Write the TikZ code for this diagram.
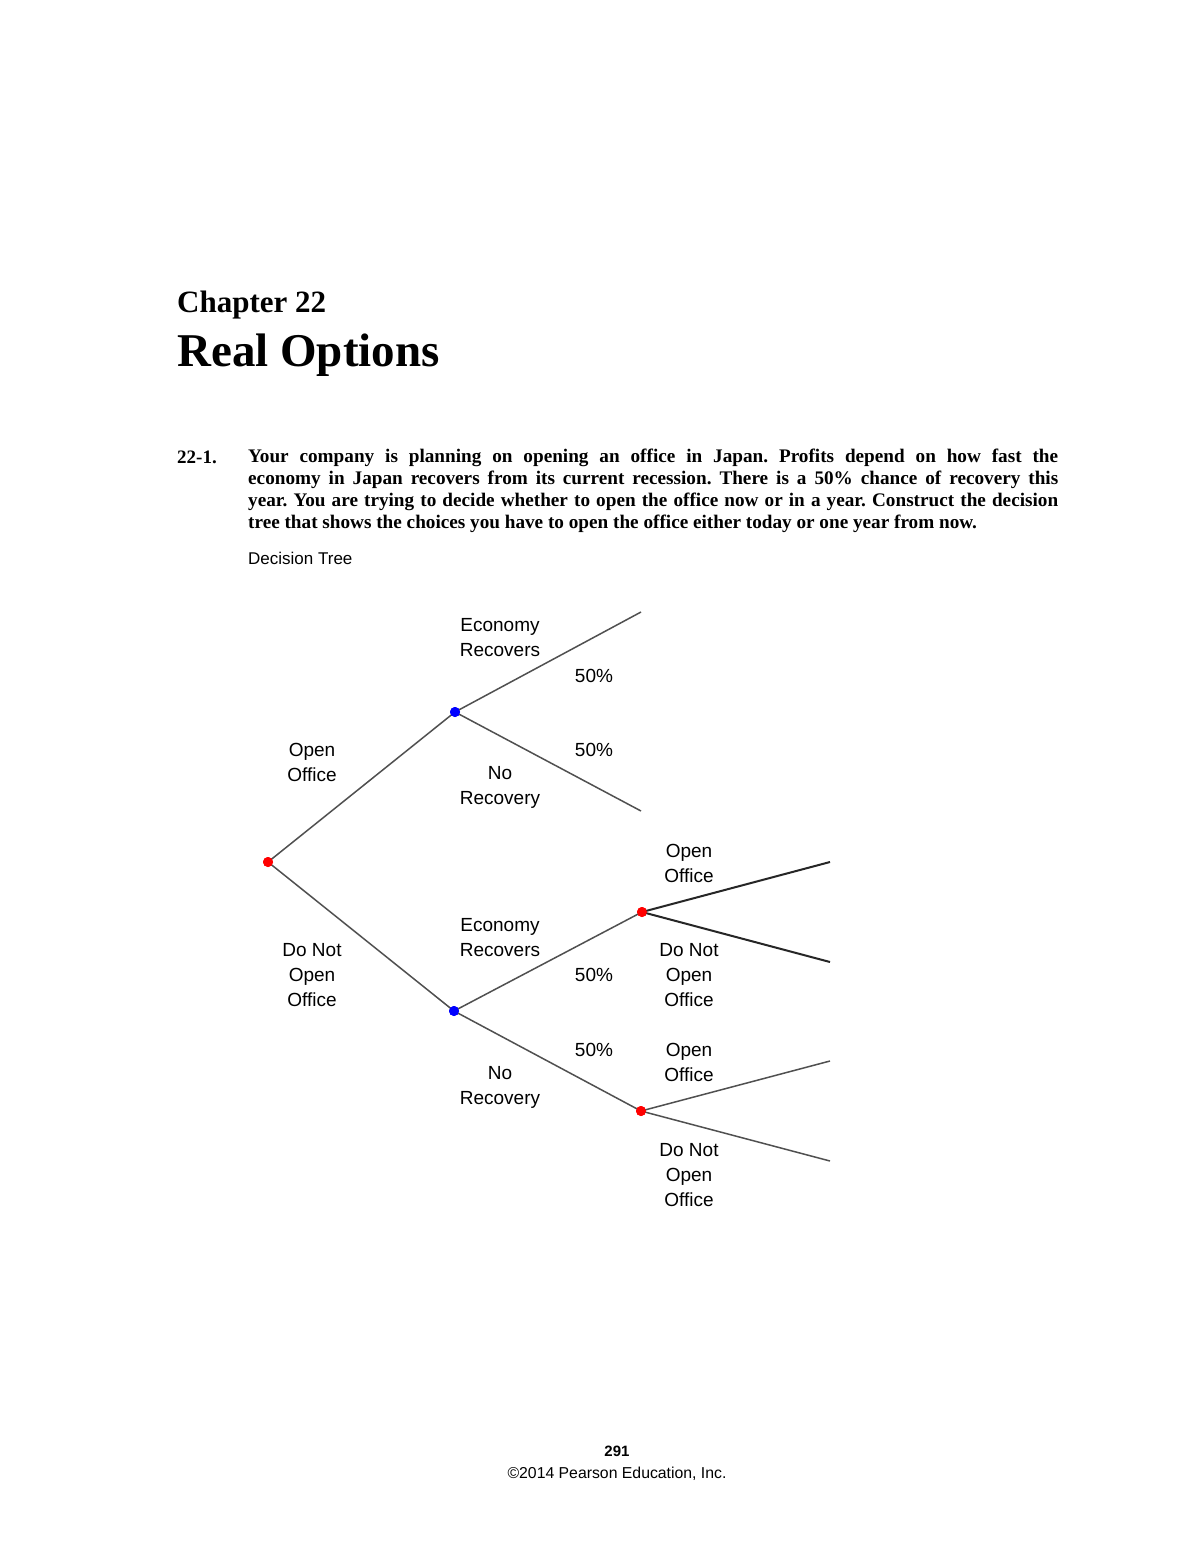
\documentclass[tikz,border=0pt]{standalone}
\usepackage{fontspec}
\setmainfont{Liberation Serif}
\newfontfamily\probfont{Liberation Serif}
\newfontfamily\lblfont{Liberation Sans}
\definecolor{branch}{RGB}{80,80,80}
\definecolor{dred}{RGB}{255,0,0}
\definecolor{dblue}{RGB}{0,0,255}
\tikzset{
  lbl/.style={font=\lblfont\fontsize{19}{25}\selectfont, align=center, inner sep=0pt},
  chance/.style={circle, fill=dblue, inner sep=0pt, minimum size=10pt},
  decision/.style={circle, fill=dred, inner sep=0pt, minimum size=10pt},
  br/.style={draw=branch, line width=1.5pt},
  brdark/.style={draw=black!85, line width=2pt},
}
\begin{document}
\begin{tikzpicture}[x=1pt,y=-1pt]
\useasboundingbox[fill=white] (0,0) rectangle (1200,1553);
% header
\node[anchor=base west, inner sep=0pt, font=\bfseries\fontsize{31}{37}\selectfont] (chap) at (177,312) {Chapter 22};
\node[anchor=base west, inner sep=0pt, font=\bfseries\fontsize{47}{55}\selectfont] (title) at (177,366) {Real Options};
\node[anchor=base west, inner sep=0pt, font=\probfont\bfseries\fontsize{19}{22}\selectfont] (num) at (177,463) {22-1.};
\node[anchor=north west, inner sep=0pt, text width=810pt, align=justify, font=\probfont\bfseries\fontsize{19.2}{22}\selectfont] (prob) at (248,449)
 {\frenchspacing Your company is planning on opening an office in Japan. Profits depend on how fast the\linebreak
 economy in Japan recovers from its current recession. There is a 50\% chance of recovery this\linebreak
 year. You are trying to decide whether to open the office now or in a year. Construct the decision\linebreak
 tree that shows the choices you have to open the office either today or one year from now.};
\node[anchor=base west, inner sep=0pt, font=\lblfont\fontsize{17}{20}\selectfont] (dt) at (248,564) {Decision Tree};
% tree nodes
\node[decision] (root) at (268,862) {};
\node[chance] (c1) at (455,712) {};
\node[chance] (c2) at (454,1011) {};
\node[decision] (d1) at (642,912) {};
\node[decision] (d2) at (641,1111) {};
\coordinate (e1) at (641,612);
\coordinate (e2) at (641,811);
\coordinate (e3) at (830,862);
\coordinate (e4) at (830,962);
\coordinate (e5) at (830,1061);
\coordinate (e6) at (830,1161);
\draw[br] (root.center) -- (c1.center);
\draw[br] (root.center) -- (c2.center);
\draw[br] (c1.center) -- (e1);
\draw[br] (c1.center) -- (e2);
\draw[br] (c2.center) -- (d1.center);
\draw[br] (c2.center) -- (d2.center);
\draw[brdark] (d1.center) -- (e3);
\draw[brdark] (d1.center) -- (e4);
\draw[br] (d2.center) -- (e5);
\draw[br] (d2.center) -- (e6);
\node[decision] at (root) {};
\node[chance] at (c1) {};
\node[chance] at (c2) {};
\node[decision] at (d1) {};
\node[decision] at (d2) {};
% labels
\node[lbl] (l1) at (500,638) {Economy\\Recovers};
\node[lbl] (l2) at (594,676) {50\%};
\node[lbl] (l3) at (594,750) {50\%};
\node[lbl] (l4) at (312,762) {Open\\Office};
\node[lbl] (l5) at (500,787) {No\\Recovery};
\node[lbl] (l6) at (689,863) {Open\\Office};
\node[lbl] (l7) at (312,975) {Do Not\\Open\\Office};
\node[lbl] (l8) at (500,938) {Economy\\Recovers};
\node[lbl] (l9) at (594,975) {50\%};
\node[lbl] (l10) at (689,975) {Do Not\\Open\\Office};
\node[lbl] (l11) at (594,1050) {50\%};
\node[lbl] (l12) at (689,1062) {Open\\Office};
\node[lbl] (l13) at (500,1087) {No\\Recovery};
\node[lbl] (l14) at (689,1175) {Do Not\\Open\\Office};
% footer
\node[anchor=base, inner sep=0pt, font=\lblfont\bfseries\fontsize{15}{18}\selectfont] (pg) at (617,1456) {291};
\node[anchor=base, inner sep=0pt, font=\lblfont\fontsize{15.8}{18}\selectfont] (copy) at (617,1478) {\textcopyright 2014 Pearson Education, Inc.};
\end{tikzpicture}
\end{document}
